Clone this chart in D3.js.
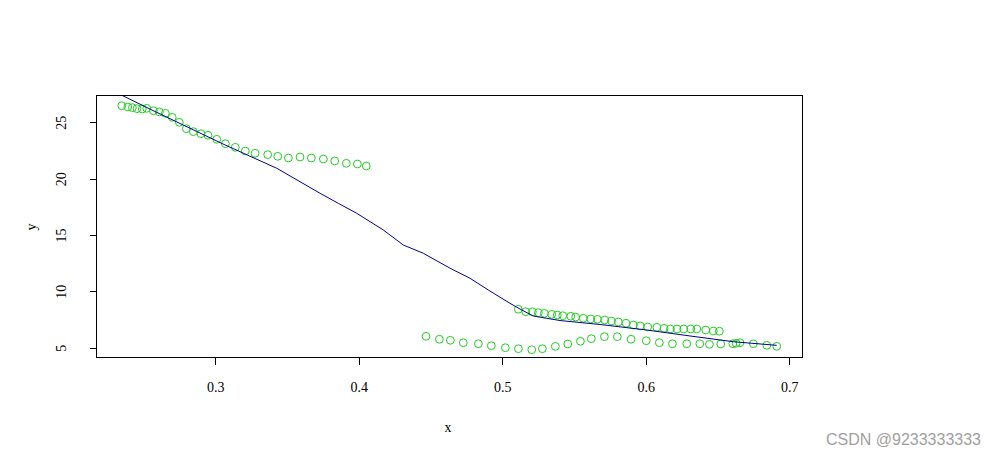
<!DOCTYPE html>
<html><head><meta charset="utf-8">
<script src="https://cdn.jsdelivr.net/npm/d3@7"></script>
<style>body{margin:0;background:#fff;} svg{display:block;}</style>
</head><body>
<svg id="chart" width="995" height="455"></svg>
<script>
// ---- data ----
const upperLeftX = [0.2348,0.2390,0.2422,0.2454,0.2491,0.2522,0.2568,0.2610,0.2652,0.2700,0.2749,0.2798,0.2847,0.2900,0.2949,0.3010,0.3070,0.3139,0.3209,0.3277,0.3365,0.3435,0.3509,0.3590,0.3669,0.3753,0.3832,0.3913,0.3990,0.4052];
const upperLeftY = [26.47,26.36,26.30,26.21,26.18,26.24,26.03,25.92,25.80,25.44,25.00,24.43,24.17,23.99,23.85,23.49,23.10,22.78,22.45,22.25,22.13,21.98,21.83,21.92,21.83,21.74,21.57,21.36,21.30,21.12];
const upperRightX = [0.5111,0.5163,0.5209,0.5251,0.5293,0.5344,0.5383,0.5421,0.5477,0.5511,0.5564,0.5616,0.5662,0.5714,0.5760,0.5808,0.5862,0.5913,0.5960,0.6013,0.6076,0.6127,0.6171,0.6217,0.6264,0.6313,0.6355,0.6417,0.6470,0.6512];
const upperRightY = [8.41,8.19,8.19,8.11,8.05,7.96,7.90,7.84,7.79,7.72,7.61,7.55,7.52,7.46,7.37,7.28,7.17,7.01,6.93,6.84,6.81,6.72,6.66,6.66,6.66,6.66,6.66,6.57,6.48,6.46];
const lowerX = [0.4468,0.4561,0.4638,0.4728,0.4833,0.4923,0.5021,0.5112,0.5205,0.5279,0.5369,0.5456,0.5544,0.5620,0.5711,0.5801,0.5897,0.6003,0.6094,0.6185,0.6285,0.6376,0.6443,0.6522,0.6606,0.6629,0.6656,0.6749,0.6843,0.6912];
const lowerY = [6.01,5.75,5.66,5.44,5.35,5.18,5.00,4.91,4.82,4.91,5.12,5.33,5.57,5.80,5.98,5.98,5.75,5.62,5.44,5.35,5.35,5.35,5.30,5.33,5.35,5.39,5.44,5.35,5.21,5.12];
const fitX = [0.2348,0.2615,0.2824,0.3068,0.3428,0.3730,0.3857,0.3985,0.4171,0.4310,0.4449,0.4636,0.4775,0.4902,0.5053,0.5123,0.5216,0.5402,0.5681,0.6006,0.6308,0.6610,0.6912];
const fitY = [27.40,25.74,24.47,22.99,20.92,18.70,17.81,16.93,15.44,14.11,13.38,12.05,11.16,10.12,8.94,8.43,7.81,7.41,7.06,6.57,6.04,5.53,5.21];
const xTicks = [0.3,0.4,0.5,0.6,0.7];
const yTicks = [5,10,15,20,25];
const xLabel = "x", yLabel = "y";
const watermark = "CSDN @9233333333";

// ---- layout ----
const box = {left:96.5, right:802, top:95.7, bottom:357.7};
const svg = d3.select("#chart");
const x = d3.scaleLinear().domain([0.2172, 0.7088]).range([box.left, box.right]);
const y = d3.scaleLinear().domain([4.113, 27.36]).range([box.bottom, box.top]);
const font = "'Liberation Serif', 'DejaVu Serif', serif";

svg.append("defs").append("clipPath").attr("id","clip")
  .append("rect").attr("x",box.left).attr("y",box.top)
  .attr("width",box.right-box.left).attr("height",box.bottom-box.top);

// points
const pts = [];
[[upperLeftX,upperLeftY],[upperRightX,upperRightY],[lowerX,lowerY]].forEach(([xs,ys])=>{
  xs.forEach((v,i)=>pts.push([v,ys[i]]));
});
svg.append("g").selectAll("circle").data(pts).join("circle")
  .attr("cx",d=>x(d[0])).attr("cy",d=>y(d[1])).attr("r",3.9)
  .attr("fill","none").attr("stroke","#22cc22").attr("stroke-width",1);

// fitted line
const lineData = fitX.map((v,i)=>[v,fitY[i]]);
svg.append("path").datum(lineData)
  .attr("clip-path","url(#clip)")
  .attr("d", d3.line().x(d=>x(d[0])).y(d=>y(d[1])))
  .attr("fill","none").attr("stroke","#00008b").attr("stroke-width",1);

// box
svg.append("rect").attr("x",box.left).attr("y",box.top)
  .attr("width",box.right-box.left).attr("height",box.bottom-box.top)
  .attr("fill","none").attr("stroke","#000").attr("stroke-width",1)
  .attr("shape-rendering","crispEdges");

// x axis
const xAxis = d3.axisBottom(x).tickValues(xTicks).tickSize(7).tickPadding(17)
  .tickFormat(d3.format(".1f"));
const gx = svg.append("g").attr("transform",`translate(0,${box.bottom})`).call(xAxis);
gx.select(".domain").remove();
gx.selectAll("line").attr("stroke","#000").attr("shape-rendering","crispEdges");
gx.selectAll("text").attr("font-family",font).attr("font-size",14).attr("fill","#000");

// y axis
const yAxis = d3.axisLeft(y).tickValues(yTicks).tickSize(7).tickPadding(0);
const gy = svg.append("g").attr("transform",`translate(${box.left},0)`).call(yAxis);
gy.select(".domain").remove();
gy.selectAll("line").attr("stroke","#000").attr("shape-rendering","crispEdges");
gy.selectAll("text")
  .attr("font-family",font).attr("font-size",14).attr("fill","#000")
  .attr("text-anchor","middle").attr("dy",null).attr("x",null)
  .attr("transform","translate(-35,0) rotate(-90)").attr("dy","0.35em");

// axis titles
svg.append("text").attr("x",448).attr("y",432).attr("text-anchor","middle")
  .attr("font-family",font).attr("font-size",14).text(xLabel);
svg.append("text").attr("transform","translate(36,227) rotate(-90)")
  .attr("text-anchor","middle").attr("font-family",font).attr("font-size",14).text(yLabel);

// watermark
svg.append("text").attr("x",981).attr("y",445).attr("text-anchor","end")
  .attr("font-family","'Liberation Sans', Arial, sans-serif").attr("font-size",16)
  .attr("fill","#a0a0a0").text(watermark);
</script>
</body></html>
